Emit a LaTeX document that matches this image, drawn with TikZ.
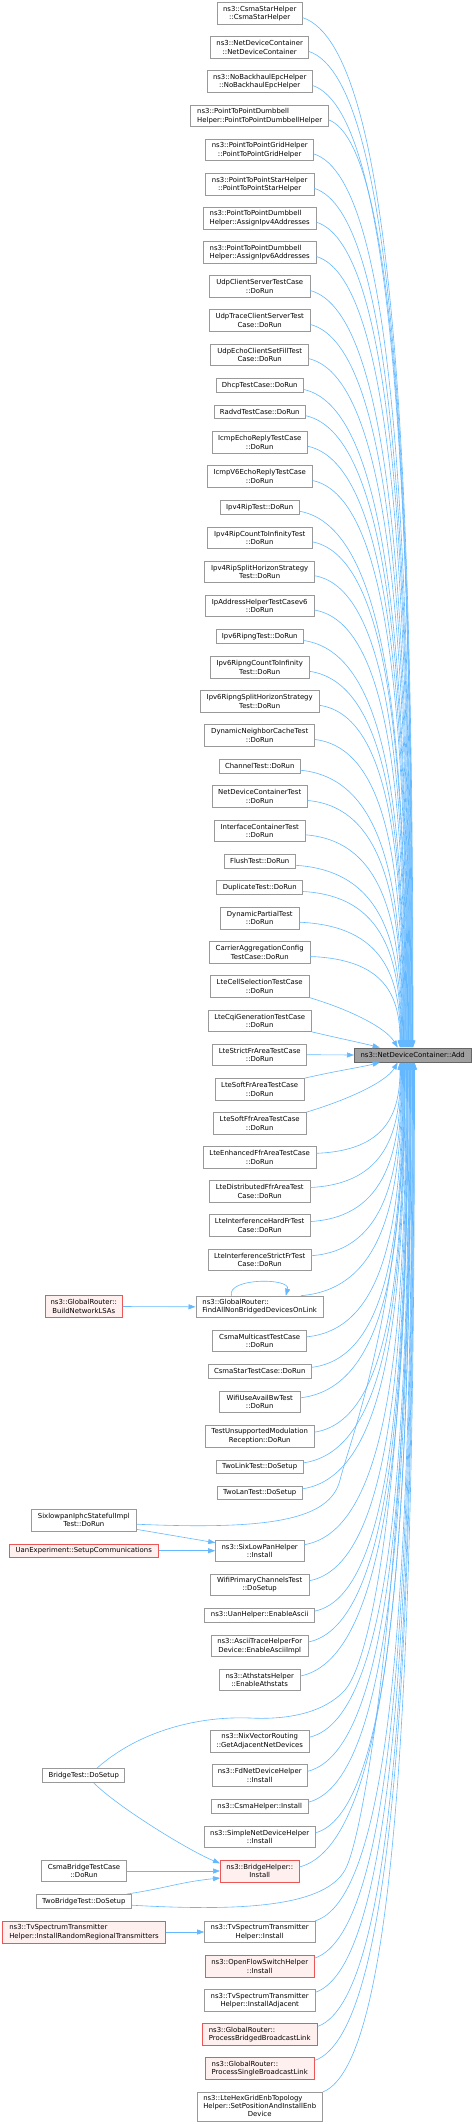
\documentclass[tikz,border=0pt]{standalone}
\usepackage{fontspec}
\setmainfont{DejaVu Sans}
\usetikzlibrary{arrows.meta,calc}
\definecolor{edgec}{HTML}{63B8FF}
\definecolor{bordc}{HTML}{999999}
\definecolor{redb}{HTML}{EE5555}
\definecolor{redf}{HTML}{FFF0F0}
\definecolor{addf}{HTML}{A0A0A0}
\definecolor{addb}{HTML}{666666}
\tikzset{
  box/.style={draw=bordc, fill=white, line width=0.7pt, inner xsep=0pt, inner ysep=0pt,
    align=center, font=\fontsize{6.9}{8.3}\selectfont, text=black},
  redbox/.style={draw=redb, fill=redf, line width=0.6pt},
  lft/.style={align=left},
  edge/.style={draw=edgec, line width=0.6pt, -{Triangle[length=7pt,width=5pt]}},
}
\newcommand\midnode[6]{\node[box,#6,minimum width=#3pt,minimum height=#4pt] (#1) at (259.7,#2) {#5};}
\newcommand\sidenode[7]{\node[box,#7,minimum width=#4pt,minimum height=#5pt] (#1) at (#2,#3) {#6};}
\newcommand\eU[2]{\draw[edge] let \p1=#1, \p2=(Add.north), \n1={\y1-\y2} in (\p1) .. controls ({\x1+0.85*(#2pt-\x1)},{\y1-0.03*\n1}) and ({#2pt},{\y1-0.45*\n1}) .. ({#2pt},\y2);}
\newcommand\eD[2]{\draw[edge] let \p1=#1, \p2=(Add.south), \n1={\y2-\y1} in (\p1) .. controls ({\x1+0.85*(#2pt-\x1)},{\y1+0.03*\n1}) and ({#2pt},{\y1+0.45*\n1}) .. ({#2pt},\y2);}
\newcommand\eu[2]{\eU{($(#1.east)+(0,4)$)}{#2}}
\newcommand\ed[2]{\eD{($(#1.east)+(0,-4)$)}{#2}}
\begin{document}
\begin{tikzpicture}[x=1pt,y=-1pt]
\useasboundingbox (0,0) rectangle (474,2124);
% target
\node[box, draw=addb, fill=addf, minimum width=116.7pt, minimum height=14.3pt] (Add) at (412.7,1055) {ns3::NetDeviceContainer::Add};
% middle column
\midnode{n1}{13.5}{84.7}{21.6}{ns3::CsmaStarHelper\\::CsmaStarHelper}{}
\midnode{n2}{47.5}{98}{21.6}{ns3::NetDeviceContainer\\::NetDeviceContainer}{}
\midnode{n3}{81.5}{105.3}{21.6}{ns3::NoBackhaulEpcHelper\\::NoBackhaulEpcHelper}{}
\midnode{n4}{116}{138}{21.6}{ns3::PointToPointDumbbell\\Helper::PointToPointDumbbellHelper}{lft}
\midnode{n5}{150}{108}{21.6}{ns3::PointToPointGridHelper\\::PointToPointGridHelper}{}
\midnode{n6}{184.3}{108.3}{21.6}{ns3::PointToPointStarHelper\\::PointToPointStarHelper}{}
\midnode{n7}{218.2}{112.7}{21.6}{ns3::PointToPointDumbbell\\Helper::AssignIpv4Addresses}{lft}
\midnode{n8}{252.5}{112.7}{21.6}{ns3::PointToPointDumbbell\\Helper::AssignIpv6Addresses}{lft}
\midnode{n9}{286.5}{100.3}{21.6}{UdpClientServerTestCase\\::DoRun}{}
\midnode{n10}{320.5}{100.7}{21.6}{UdpTraceClientServerTest\\Case::DoRun}{}
\midnode{n11}{354.7}{98}{21.6}{UdpEchoClientSetFillTest\\Case::DoRun}{}
\midnode{n12}{385.5}{87.7}{13.7}{DhcpTestCase::DoRun}{}
\midnode{n13}{411.7}{91.3}{13.7}{RadvdTestCase::DoRun}{}
\midnode{n14}{442.3}{95.7}{21.6}{IcmpEchoReplyTestCase\\::DoRun}{}
\midnode{n15}{476.5}{105}{21.6}{IcmpV6EchoReplyTestCase\\::DoRun}{}
\midnode{n16}{507.2}{78.7}{13.7}{Ipv4RipTest::DoRun}{}
\midnode{n17}{537.8}{104.3}{21.6}{Ipv4RipCountToInfinityTest\\::DoRun}{}
\midnode{n18}{571.8}{110}{21.6}{Ipv4RipSplitHorizonStrategy\\Test::DoRun}{}
\midnode{n19}{606}{108.7}{21.6}{IpAddressHelperTestCasev6\\::DoRun}{}
\midnode{n20}{636.5}{87}{13.7}{Ipv6RipngTest::DoRun}{}
\midnode{n21}{667.3}{98.7}{21.6}{Ipv6RipngCountToInfinity\\Test::DoRun}{}
\midnode{n22}{701.3}{118.7}{21.6}{Ipv6RipngSplitHorizonStrategy\\Test::DoRun}{}
\midnode{n23}{735.5}{110}{21.6}{DynamicNeighborCacheTest\\::DoRun}{}
\midnode{n24}{766.2}{80.7}{13.7}{ChannelTest::DoRun}{}
\midnode{n25}{796.5}{95.7}{21.6}{NetDeviceContainerTest\\::DoRun}{}
\midnode{n26}{830.8}{90.7}{21.6}{InterfaceContainerTest\\::DoRun}{}
\midnode{n27}{861.3}{71}{13.7}{FlushTest::DoRun}{}
\midnode{n28}{887.5}{86}{13.7}{DuplicateTest::DoRun}{}
\midnode{n29}{918.2}{78.7}{21.6}{DynamicPartialTest\\::DoRun}{}
\midnode{n30}{952.5}{100.3}{21.6}{CarrierAggregationConfig\\TestCase::DoRun}{}
\midnode{n31}{986.5}{99.3}{21.6}{LteCellSelectionTestCase\\::DoRun}{}
\midnode{n32}{1020.7}{103.3}{21.6}{LteCqiGenerationTestCase\\::DoRun}{}
\midnode{n33}{1054.7}{94}{21.6}{LteStrictFrAreaTestCase\\::DoRun}{}
\midnode{n34}{1089.3}{89.3}{21.6}{LteSoftFrAreaTestCase\\::DoRun}{}
\midnode{n35}{1123.3}{92.7}{21.6}{LteSoftFfrAreaTestCase\\::DoRun}{}
\midnode{n36}{1157.3}{112.7}{21.6}{LteEnhancedFfrAreaTestCase\\::DoRun}{}
\midnode{n37}{1191.5}{100.3}{21.6}{LteDistributedFfrAreaTest\\Case::DoRun}{}
\midnode{n38}{1225.5}{101.3}{21.6}{LteInterferenceHardFrTest\\Case::DoRun}{}
\midnode{n39}{1259.7}{102.7}{21.6}{LteInterferenceStrictFrTest\\Case::DoRun}{}
\midnode{n40}{1306.8}{127.7}{21.6}{ns3::GlobalRouter::\\FindAllNonBridgedDevicesOnLink}{lft}
\midnode{n41}{1340.8}{94}{21.6}{CsmaMulticastTestCase\\::DoRun}{}
\midnode{n42}{1371.3}{103.3}{13.7}{CsmaStarTestCase::DoRun}{}
\midnode{n43}{1401.8}{80.7}{21.6}{WifiUseAvailBwTest\\::DoRun}{}
\midnode{n44}{1436.2}{108.3}{21.6}{TestUnsupportedModulation\\Reception::DoRun}{}
\midnode{n45}{1466.8}{87}{13.7}{TwoLinkTest::DoSetup}{}
\midnode{n46}{1492.8}{84.7}{13.7}{TwoLanTest::DoSetup}{}
\midnode{n47}{1550.7}{88.3}{21.6}{ns3::SixLowPanHelper\\::Install}{}
\midnode{n48}{1584.7}{98.7}{21.6}{WifiPrimaryChannelsTest\\::DoSetup}{}
\midnode{n49}{1615}{110}{13.7}{ns3::UanHelper::EnableAscii}{}
\midnode{n50}{1646}{96.7}{21.6}{ns3::AsciiTraceHelperFor\\Device::EnableAsciiImpl}{}
\midnode{n51}{1680}{80.7}{21.6}{ns3::AthstatsHelper\\::EnableAthstats}{}
\midnode{n52}{1741.2}{99}{21.6}{ns3::NixVectorRouting\\::GetAdjacentNetDevices}{}
\midnode{n53}{1775.3}{95}{21.6}{ns3::FdNetDeviceHelper\\::Install}{}
\midnode{n54}{1806.2}{96.7}{13.7}{ns3::CsmaHelper::Install}{}
\midnode{n55}{1836.7}{111.7}{21.6}{ns3::SimpleNetDeviceHelper\\::Install}{}
\midnode{n56}{1871}{78.7}{21.6}{ns3::BridgeHelper::\\Install}{redbox}
\midnode{n57}{1932}{110.3}{21.6}{ns3::TvSpectrumTransmitter\\Helper::Install}{}
\midnode{n58}{1966.3}{108.7}{21.6}{ns3::OpenFlowSwitchHelper\\::Install}{redbox}
\midnode{n59}{2000.5}{110.3}{21.6}{ns3::TvSpectrumTransmitter\\Helper::InstallAdjacent}{}
\midnode{n60}{2034.5}{115.3}{21.6}{ns3::GlobalRouter::\\ProcessBridgedBroadcastLink}{redbox,lft}
\midnode{n61}{2068.5}{109.7}{21.6}{ns3::GlobalRouter::\\ProcessSingleBroadcastLink}{redbox,lft}
\midnode{n62}{2106.8}{125.7}{29}{\begin{tabular}{@{}l@{}}ns3::LteHexGridEnbTopology\\Helper::SetPositionAndInstallEnb\\\multicolumn{1}{@{}c@{}}{Device}\end{tabular}}{}
% left column
\sidenode{bnl}{83.8}{1306.5}{77.7}{21.6}{ns3::GlobalRouter::\\BuildNetworkLSAs}{redbox}
\sidenode{six}{83.8}{1520.2}{105}{21.6}{SixlowpanIphcStatefulImpl\\Test::DoRun}{}
\sidenode{uan}{83.8}{1550.7}{149}{13.3}{UanExperiment::SetupCommunications}{redbox}
\sidenode{bt}{83.7}{1775.3}{82}{13.7}{BridgeTest::DoSetup}{}
\sidenode{cbt}{84}{1871}{85.3}{21.6}{CsmaBridgeTestCase\\::DoRun}{}
\sidenode{tbt}{83.8}{1901.2}{95.7}{13.7}{TwoBridgeTest::DoSetup}{}
\sidenode{irr}{84}{1932}{162.7}{21.6}{ns3::TvSpectrumTransmitter\\Helper::InstallRandomRegionalTransmitters}{redbox,lft}
% edges from above
\eu{n1}{413}
\eu{n2}{412.5}
\eu{n3}{412.1}
\eu{n4}{411.6}
\eu{n5}{411.2}
\eu{n6}{410.7}
\eu{n7}{410.3}
\eu{n8}{409.8}
\eu{n9}{409.4}
\eu{n10}{408.9}
\eu{n11}{408.5}
\eu{n12}{408}
\eu{n13}{407.6}
\eu{n14}{407.1}
\eu{n15}{406.7}
\eu{n16}{406.2}
\eu{n17}{405.8}
\eu{n18}{405.3}
\eu{n19}{404.9}
\eu{n20}{404.4}
\eu{n21}{404}
\eu{n22}{403.5}
\eu{n23}{403.1}
\eu{n24}{402.6}
\eu{n25}{402.2}
\eu{n26}{401.7}
\eu{n27}{401.3}
\eu{n28}{400.8}
\eu{n29}{400.4}
\eu{n30}{400}
\draw[edge] (n31.south east) .. controls +(40,12) and +(-12,-20) .. ($(Add.north west)+(43.7,0)$);
\draw[edge] (n32.south east) .. controls +(30,7) and +(-20,-5) .. ($(Add.north west)+(25.7,0)$);
\draw[edge] (n33.east) -- (Add.west);
% edges from below
\draw[edge] (n34.north east) .. controls +(30,-7) and +(-20,5) .. ($(Add.south west)+(25.7,0)$);
\draw[edge] (n35.north east) .. controls +(40,-12) and +(-12,20) .. ($(Add.south west)+(43.7,0)$);
\ed{n36}{400}
\ed{n37}{400.5}
\ed{n38}{401}
\ed{n39}{401.5}
\eD{($(n40.north east)+(-23,0)$)}{402}
\ed{n41}{402.5}
\ed{n42}{403}
\ed{n43}{403.5}
\ed{n44}{404}
\ed{n45}{404.5}
\ed{n46}{405}
\draw[edge] ($(six.east)+(0,4)$) .. controls (270,1530) and (330,1520) .. (340,1480) .. controls (350,1440) and (405.5,1300) .. ($(Add.south west)+(51.2,0)$);
\eD{($(n47.east)+(0,-6)$)}{406}
\ed{n48}{406.5}
\ed{n49}{407}
\ed{n50}{407.5}
\ed{n51}{408}
\draw[edge] ($(bt.north)+(13.3,0)$) .. controls (140,1730) and (200,1716) .. (250,1718) .. controls (290,1720) and (325,1712) .. (345,1690) .. controls (375,1655) and (408.5,1450) .. ($(Add.south west)+(54.2,0)$);
\ed{n52}{409}
\ed{n53}{409.5}
\ed{n54}{410}
\ed{n55}{410.5}
\ed{n56}{411}
\draw[edge] ($(tbt.east)+(0,4)$) .. controls (250,1912) and (325,1905) .. (345,1870) .. controls (365,1835) and (411.5,1550) .. ($(Add.south west)+(57.2,0)$);
\eD{($(n57.north east)+(0,0)$)}{412}
\eD{($(n58.north east)+(0,3)$)}{412.5}
\eD{($(n59.north east)+(0,3)$)}{413}
\eD{($(n60.north east)+(0,3)$)}{413.5}
\eD{($(n61.north east)+(0,3)$)}{414}
\eD{($(n62.north east)+(0,0)$)}{414.5}
% other edges
\draw[edge] (bnl.east) -- (n40.west);
\draw[edge] ($(n40.north west)+(36,0)$) .. controls +(-5,-18) and +(5,-18) .. ($(n40.north west)+(90.3,0)$);
\draw[edge] ($(six.south east)+(0,-2)$) -- ($(n47.west)+(0,-8)$);
\draw[edge] (uan.east) -- (n47.west);
\draw[edge] ($(bt.south)+(9.6,0)$) .. controls +(25,25) and +(-30,-12) .. ($(n56.west)+(0,-7.7)$);
\draw[edge] (cbt.east) -- (n56.west);
\draw[edge] ($(tbt.north east)+(-5,0)$) .. controls +(40,-6) and +(-40,4) .. ($(n56.west)+(0,7)$);
\draw[edge] (irr.east) -- (n57.west);
\end{tikzpicture}
\end{document}
